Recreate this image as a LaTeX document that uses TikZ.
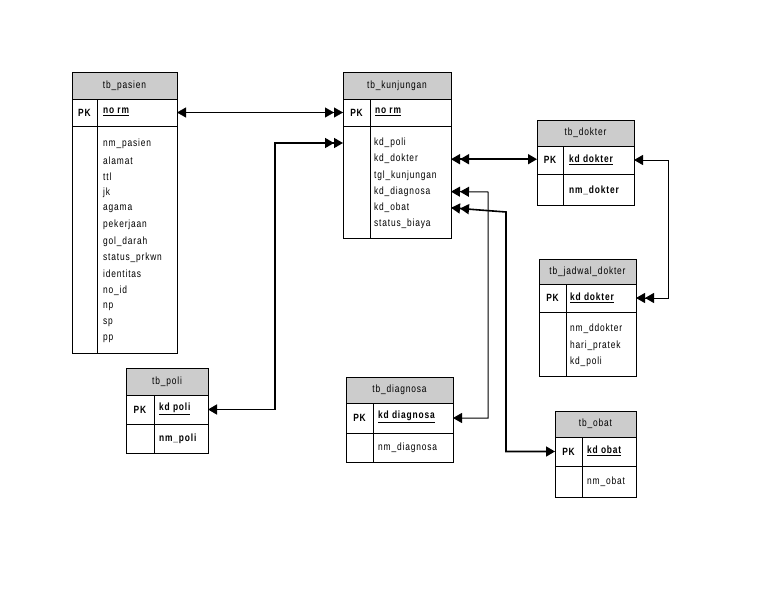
\documentclass[tikz,border=0pt]{standalone}
\usepackage{fontspec}
\setmainfont{Liberation Sans}[LetterSpace=8,FakeStretch=0.8]
\usetikzlibrary{arrows.meta}
\begin{document}
\begin{tikzpicture}[x=1pt,y=-1pt,
    box/.style={draw, anchor=north west, inner sep=0pt, outer sep=0pt},
    hdr/.style={box, fill=gray!40, font=\fontsize{10.5}{12}\selectfont},
    pk/.style={box, font=\fontsize{10.5}{12}\selectfont\bfseries},
    fld/.style={anchor=west, inner sep=0pt, font=\fontsize{10.5}{12}\selectfont},
    rel/.style={{Triangle[length=9pt,width=10pt]}-{Triangle[length=9pt,width=10pt]Triangle[length=9pt,width=10pt]}},
    thick line/.style={line width=1.6pt},
    thin line/.style={line width=1pt}]
    \useasboundingbox (0,0) rectangle (768,594);

    % tb_pasien
    \node[hdr, minimum width=105pt, minimum height=27pt] (ps) at (72,72) {tb\_pasien};
    \node[pk, minimum width=25pt, minimum height=27pt] (pskey) at (72,99) {PK};
    \node[pk, minimum width=80pt, minimum height=27pt] (pspk) at (97,99) {};
    \node[fld] at (103,112) {\textbf{\underline{no rm}}};
    \node[box, minimum width=25pt, minimum height=227pt] (psk) at (72,126) {};
    \node[box, minimum width=80pt, minimum height=227pt] (psb) at (97,126) {};
    \foreach \t [count=\i] in {nm\_pasien, alamat, ttl, jk, agama, pekerjaan, gol\_darah,
        status\_prkwn, identitas, no\_id, np, sp, pp}
        \node[fld] (ps\i) at (103,{144+(\i-1)*16.25}) {\t};

    % tb_kunjungan
    \node[hdr, minimum width=108pt, minimum height=27pt] (kj) at (343,72) {tb\_kunjungan};
    \node[pk, minimum width=27pt, minimum height=27pt] (kjkey) at (343,99) {PK};
    \node[pk, minimum width=81pt, minimum height=27pt] (kjpk) at (370,99) {};
    \node[fld] at (375,112) {\textbf{\underline{no rm}}};
    \node[box, minimum width=27pt, minimum height=112pt] (kjk) at (343,126) {};
    \node[box, minimum width=81pt, minimum height=112pt] (kjb) at (370,126) {};
    \foreach \t [count=\i] in {kd\_poli, kd\_dokter, tgl\_kunjungan, kd\_diagnosa, kd\_obat, status\_biaya}
        \node[fld] (kj\i) at (374,{143+(\i-1)*16.2}) {\t};

    % tb_dokter
    \node[hdr, minimum width=97pt, minimum height=26pt] (dk) at (537,120) {tb\_dokter};
    \node[pk, minimum width=26pt, minimum height=28pt] (dkkey) at (537,146) {PK};
    \node[pk, minimum width=71pt, minimum height=28pt] (dkpk) at (563,146) {};
    \node[fld] at (569,160) {\textbf{\underline{kd dokter}}};
    \node[box, minimum width=26pt, minimum height=31pt] (dkk) at (537,174) {};
    \node[box, minimum width=71pt, minimum height=31pt] (dkb) at (563,174) {};
    \node[fld] at (569,190) {\textbf{nm\_dokter}};

    % tb_jadwaldokter
    \node[hdr, minimum width=97pt, minimum height=25pt] (jd) at (539,259) {tb\_jadwal\_dokter};
    \node[pk, minimum width=27pt, minimum height=28pt] (jdkey) at (539,284) {PK};
    \node[pk, minimum width=70pt, minimum height=28pt] (jdpk) at (566,284) {};
    \node[fld] at (570,298) {\textbf{\underline{kd dokter}}};
    \node[box, minimum width=27pt, minimum height=64pt] (jdk) at (539,312) {};
    \node[box, minimum width=70pt, minimum height=64pt] (jdb) at (566,312) {};
    \foreach \t [count=\i] in {nm\_ddokter, hari\_pratek, kd\_poli}
        \node[fld] (jd\i) at (570,{329+(\i-1)*16.5}) {\t};

    % tb_poli
    \node[hdr, minimum width=82pt, minimum height=27pt] (pl) at (126,368) {tb\_poli};
    \node[pk, minimum width=28pt, minimum height=29pt] (plkey) at (126,395) {PK};
    \node[pk, minimum width=54pt, minimum height=29pt] (plpk) at (154,395) {};
    \node[fld] at (159,409) {\textbf{\underline{kd poli}}};
    \node[box, minimum width=28pt, minimum height=29pt] (plk) at (126,424) {};
    \node[box, minimum width=54pt, minimum height=29pt] (plb) at (154,424) {};
    \node[fld] at (159,439) {\textbf{nm\_poli}};

    % tb_diagnosa
    \node[hdr, minimum width=107pt, minimum height=26pt] (dg) at (346,377) {tb\_diagnosa};
    \node[pk, minimum width=27pt, minimum height=30pt] (dgkey) at (346,403) {PK};
    \node[pk, minimum width=80pt, minimum height=30pt] (dgpk) at (373,403) {};
    \node[fld] at (378,417) {\textbf{\underline{kd diagnosa}}};
    \node[box, minimum width=27pt, minimum height=29pt] (dgk) at (346,433) {};
    \node[box, minimum width=80pt, minimum height=29pt] (dgb) at (373,433) {};
    \node[fld] at (378,448) {nm\_diagnosa};

    % tb_obat
    \node[hdr, minimum width=81pt, minimum height=26pt] (ob) at (555,411) {tb\_obat};
    \node[pk, minimum width=27pt, minimum height=29pt] (obkey) at (555,437) {PK};
    \node[pk, minimum width=54pt, minimum height=29pt] (obpk) at (582,437) {};
    \node[fld] at (587,451) {\textbf{\underline{kd obat}}};
    \node[box, minimum width=27pt, minimum height=31pt] (obk) at (555,466) {};
    \node[box, minimum width=54pt, minimum height=31pt] (obb) at (582,466) {};
    \node[fld] at (587,482) {nm\_obat};

    % relations
    \draw[rel] (pspk.east) -- (kjkey.west);
    \draw[thick line, rel] (plpk.east) -| (275,143) -- (kjk.west |- kj1.west);
    \draw[thick line, rel] (dkkey.west |- kj2.west) -- (kjb.east |- kj2.west);
    \draw[thin line, rel] (dkpk.east) -| (668,298) -- (jdpk.east);
    \draw[thin line, rel] (dgpk.east |- 0,418) -| (488,192) -- (kjb.east |- kj4.west);
    \draw[thick line, rel] (obkey.west) -| (506,212) -- (kjb.east |- kj5.west);
\end{tikzpicture}
\end{document}
